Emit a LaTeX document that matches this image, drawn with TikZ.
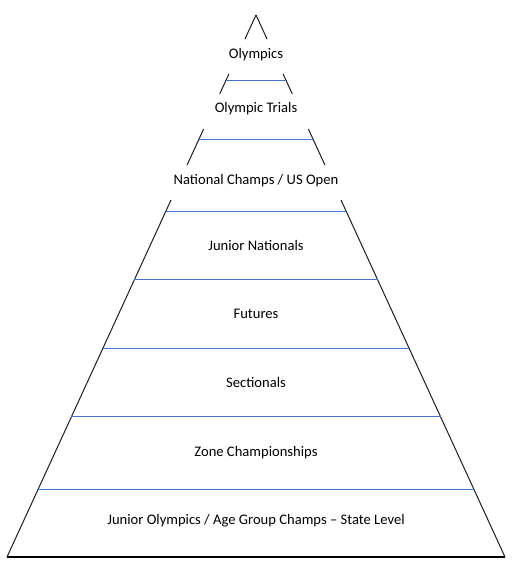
\documentclass[tikz,border=0pt]{standalone}
\usepackage{fontspec}
\setmainfont{Carlito}
\usetikzlibrary{calc}
\definecolor{tierblue}{RGB}{68,114,196}
\definecolor{sidegray}{RGB}{30,30,30}
\tikzset{
  side/.style={draw=sidegray, line width=1pt},
  tier/.style={draw=tierblue, line width=1pt},
  base/.style={draw=black, line width=1.3pt},
  label/.style={font=\fontsize{14.6}{17}\selectfont, text=black, inner sep=0pt}
}
\begin{document}
\begin{tikzpicture}[x=1pt,y=-1pt]
\useasboundingbox (0,0) rectangle (512,565);
\coordinate (A) at (256,15);
\coordinate (BL) at (7,557);
\coordinate (BR) at (505,557);
% side segments (broken around the top labels)
\foreach \ya/\yb in {15/39, 74/94, 129/165, 200/557}{
  \draw[side] ($(A)!{(\ya-15)/542}!(BL)$) -- ($(A)!{(\yb-15)/542}!(BL)$);
  \draw[side] ($(A)!{(\ya-15)/542}!(BR)$) -- ($(A)!{(\yb-15)/542}!(BR)$);
}
% tier dividers
\foreach \y in {81,140,211,280,349,417,489}{
  \draw[tier] ($(A)!{(\y-15)/542}!(BL)$) -- ($(A)!{(\y-15)/542}!(BR)$);
}
\draw[base] (BL) -- (BR);
% labels
\node[label] (t1) at (256,55) {Olympics};
\node[label] (t2) at (256,109) {Olympic Trials};
\node[label] (t3) at (256,181) {National Champs / US Open};
\node[label] (t4) at (256,245) {Junior Nationals};
\node[label] (t5) at (256,314) {Futures};
\node[label] (t6) at (256,382) {Sectionals};
\node[label] (t7) at (256,453) {Zone Championships};
\node[label] (t8) at (256,521) {Junior Olympics / Age Group Champs – State Level};
\end{tikzpicture}
\end{document}
